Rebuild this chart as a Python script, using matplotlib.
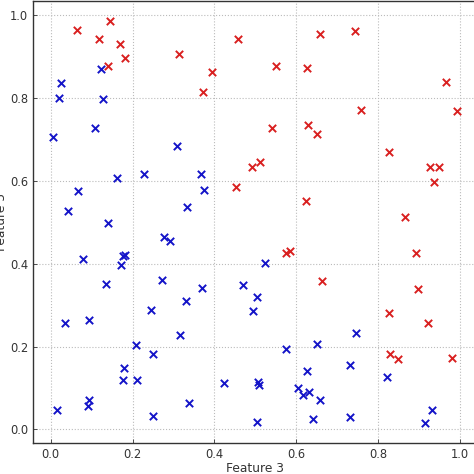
import matplotlib
matplotlib.use("Agg")
import matplotlib.pyplot as plt

blue_x = [0.025, 0.020, 0.124, 0.128, 0.006, 0.107, 0.309, 0.227, 0.368, 0.375, 0.161, 0.067, 0.043, 0.333, 0.140, 0.276, 0.292,
          0.080, 0.176, 0.182, 0.172, 0.136, 0.271, 0.370, 0.330, 0.244, 0.034, 0.093, 0.317, 0.209, 0.251, 0.178, 0.177, 0.210, 0.423, 0.015, 0.094, 0.091, 0.249, 0.337,
          0.523, 0.470, 0.504, 0.495, 0.746, 0.650, 0.575, 0.731, 0.821, 0.627, 0.506, 0.510, 0.605, 0.617, 0.632, 0.658, 0.931, 0.914, 0.504, 0.642, 0.731]
blue_y = [0.836, 0.801, 0.870, 0.798, 0.707, 0.729, 0.685, 0.618, 0.618, 0.579, 0.607, 0.575, 0.528, 0.538, 0.499, 0.465, 0.456,
          0.411, 0.420, 0.421, 0.398, 0.351, 0.361, 0.341, 0.311, 0.288, 0.258, 0.265, 0.228, 0.205, 0.181, 0.149, 0.120, 0.120, 0.111, 0.046, 0.071, 0.057, 0.033, 0.063,
          0.401, 0.349, 0.320, 0.285, 0.233, 0.207, 0.195, 0.156, 0.127, 0.140, 0.115, 0.107, 0.101, 0.084, 0.091, 0.071, 0.046, 0.015, 0.018, 0.025, 0.031]

red_x = [0.064, 0.118, 0.144, 0.170, 0.139, 0.181, 0.313, 0.395, 0.373, 0.457, 0.454,
         0.659, 0.744, 0.551, 0.626, 0.967, 0.759, 0.994, 0.540, 0.628, 0.650, 0.828, 0.491, 0.511, 0.927, 0.949, 0.937, 0.623, 0.865,
         0.575, 0.584, 0.892, 0.664, 0.898, 0.827, 0.922, 0.830, 0.850, 0.982]
red_y = [0.966, 0.943, 0.986, 0.930, 0.878, 0.898, 0.908, 0.863, 0.814, 0.942, 0.585,
         0.956, 0.963, 0.878, 0.874, 0.839, 0.772, 0.770, 0.727, 0.736, 0.713, 0.669, 0.634, 0.646, 0.634, 0.633, 0.598, 0.553, 0.512,
         0.425, 0.432, 0.425, 0.359, 0.339, 0.282, 0.258, 0.182, 0.170, 0.172]

x_label = "Feature 3"
y_label = "Feature 5"
ticks = [0.0, 0.2, 0.4, 0.6, 0.8, 1.0]

fig = plt.figure(figsize=(4.74, 4.74), dpi=100)
ax = fig.add_axes([0.0696, 0.0648, 0.938, 0.9327])

ax.scatter(blue_x, blue_y, marker='x', c='#1414c8', s=28, linewidths=1.4, zorder=3)
ax.scatter(red_x, red_y, marker='x', c='#d92020', s=28, linewidths=1.4, zorder=3)

ax.set_xticks(ticks)
ax.set_yticks(ticks)
ax.set_xticklabels([f"{t:.1f}" for t in ticks])
ax.set_yticklabels([f"{t:.1f}" for t in ticks])
ax.grid(True, linestyle=':', color='#bbbbbb', linewidth=0.8)
ax.set_axisbelow(True)
ax.tick_params(direction='in', length=3, width=0.6, colors='#333333', labelsize=8.3, labelcolor='#333333')
for sp in ax.spines.values():
    sp.set_color('#333333')
    sp.set_linewidth(1.0)
ax.set_xlabel(x_label, fontsize=8.8, color='#333333', labelpad=0.5)
ax.set_ylabel(y_label, fontsize=8.8, color='#333333', labelpad=1.5)
ax.margins(0.05)

fig.savefig("out.png", dpi=100)
